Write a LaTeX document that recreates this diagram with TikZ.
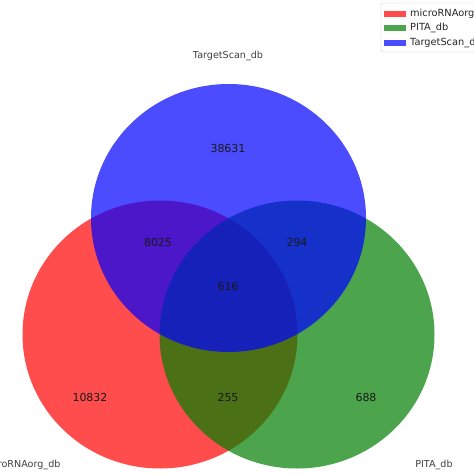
\documentclass[tikz,border=0pt]{standalone}
\usepackage{fontspec}
\setmainfont{DejaVu Sans}
\begin{document}
\begin{tikzpicture}[x=1pt,y=-1pt,
  setfill/.style={fill opacity=0.7, draw=none},
  num/.style={font=\fontsize{11}{13}\selectfont, text=black!90},
  setlabel/.style={font=\fontsize{9.6}{11}\selectfont, text=black!75},
  legtext/.style={font=\fontsize{9.8}{11}\selectfont, text=black!85, anchor=west, inner sep=0pt},
  legpatch/.style={minimum width=22pt, minimum height=6pt, inner sep=0pt, draw=none, fill opacity=0.7}]
\useasboundingbox (0,0) rectangle (474,474);
\clip (0,0) rectangle (474,474);
\fill[white] (0,0) rectangle (474,474);
% sets
\fill[red, setfill] (160,334.5) ellipse [x radius=137.5, y radius=134];
\fill[green!50!black, setfill] (297,334.5) ellipse [x radius=137.5, y radius=134];
\fill[blue, setfill] (228.5,218) ellipse [x radius=137.5, y radius=134];
% counts
\node[num] (nB) at (228,148) {38631};
\node[num] (nRB) at (158,242) {8025};
\node[num] (nGB) at (297,242) {294};
\node[num] (nRGB) at (228,286) {616};
\node[num] (nR) at (90,397) {10832};
\node[num] (nRG) at (228,397) {255};
\node[num] (nG) at (366,397) {688};
% set labels
\node[setlabel] (lB) at (228,56) {TargetScan\_db};
\node[setlabel, anchor=east] (lR) at (64,465) {microRNAorg\_db};
\node[setlabel] (lG) at (434,465) {PITA\_db};
% legend
\draw[rounded corners=2pt, draw=black!20, fill=white] (381,3) rectangle (490,52);
\node[legpatch, fill=red] (pR) at (395,13.5) {};
\node[legpatch, fill=green!50!black] (pG) at (395,28) {};
\node[legpatch, fill=blue] (pB) at (395,42.5) {};
\node[legtext] (tR) at (410,13.5) {microRNAorg\_db};
\node[legtext] (tG) at (410,28) {PITA\_db};
\node[legtext] (tB) at (410,42.5) {TargetScan\_db};
\end{tikzpicture}
\end{document}
